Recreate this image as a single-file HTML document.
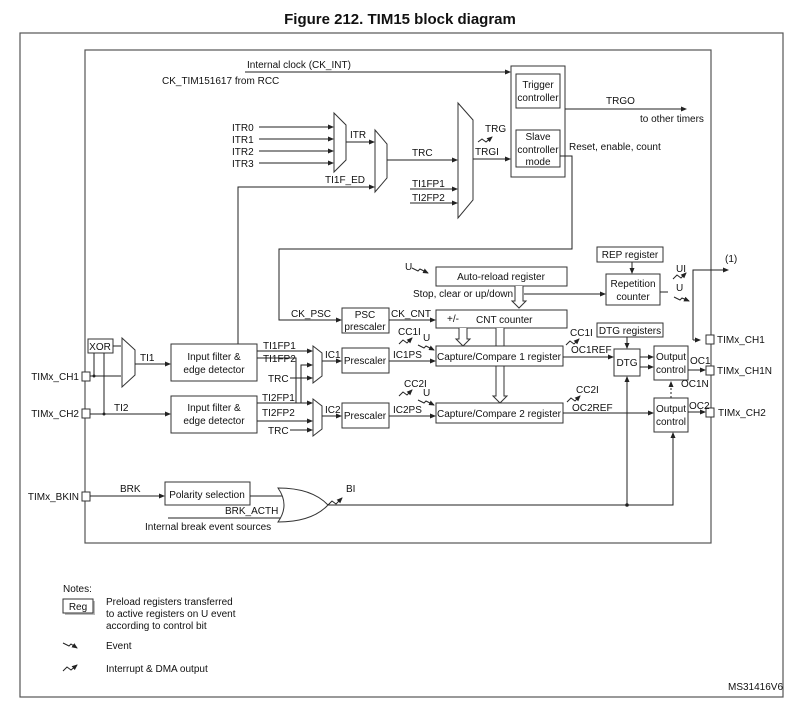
<!DOCTYPE html>
<html><head><meta charset="utf-8"><style>
body{margin:0;background:#fff}
svg{display:block}
text{font-family:"Liberation Sans",Arial,sans-serif;font-size:10px;fill:#111}
.b{fill:#fff;stroke:#333;stroke-width:1}
.l{fill:none;stroke:#222;stroke-width:1}
.s{fill:#bbb}
</style></head><body>
<svg width="797" height="704" viewBox="0 0 797 704" xmlns="http://www.w3.org/2000/svg">
<defs>
<marker id="a" markerWidth="6" markerHeight="6" refX="5" refY="3" orient="auto" markerUnits="userSpaceOnUse"><path d="M0,0.5 L6,3 L0,5.5z" fill="#222"/></marker>
</defs>
<text x="400" y="24" text-anchor="middle" style="font-size:15px;font-weight:bold">Figure 212. TIM15 block diagram</text>
<rect x="20" y="33" width="763" height="664" fill="none" stroke="#555" stroke-width="1.2"/>
<rect x="85" y="50" width="626" height="493" fill="none" stroke="#555" stroke-width="1.2"/>

<line class="l" x1="245" y1="72" x2="510" y2="72" marker-end="url(#a)"/>
<text x="247" y="68">Internal clock (CK_INT)</text>
<text x="162" y="84">CK_TIM151617 from RCC</text>

<rect class="b" x="511" y="66" width="54" height="111"/>
<rect class="b" x="516" y="74" width="44" height="34"/>
<text x="538" y="88" text-anchor="middle">Trigger</text>
<text x="538" y="101" text-anchor="middle">controller</text>
<rect class="b" x="516" y="130" width="44" height="37"/>
<text x="538" y="140" text-anchor="middle">Slave</text>
<text x="538" y="153" text-anchor="middle">controller</text>
<text x="538" y="165" text-anchor="middle">mode</text>
<line class="l" x1="565" y1="109" x2="686" y2="109" marker-end="url(#a)"/>
<text x="606" y="104">TRGO</text>
<text x="640" y="122">to other timers</text>
<text x="569" y="150">Reset, enable, count</text>
<polyline class="l" points="560,156 572,156 572,249 279,249 279,320 341,320" marker-end="url(#a)"/>
<text x="291" y="317">CK_PSC</text>

<polygon class="b" points="334,113 346,125 346,160 334,172"/>
<text x="232" y="131">ITR0</text><line class="l" x1="259" y1="127" x2="333" y2="127" marker-end="url(#a)"/>
<text x="232" y="143">ITR1</text><line class="l" x1="259" y1="139" x2="333" y2="139" marker-end="url(#a)"/>
<text x="232" y="155">ITR2</text><line class="l" x1="259" y1="151" x2="333" y2="151" marker-end="url(#a)"/>
<text x="232" y="167">ITR3</text><line class="l" x1="259" y1="163" x2="333" y2="163" marker-end="url(#a)"/>
<line class="l" x1="346" y1="142" x2="374" y2="142" marker-end="url(#a)"/>
<text x="350" y="138">ITR</text>
<polygon class="b" points="375,130 387,144 387,178 375,192"/>
<polyline class="l" points="238,344 238,187 374,187" marker-end="url(#a)"/>
<text x="325" y="183">TI1F_ED</text>
<line class="l" x1="387" y1="160" x2="457" y2="160" marker-end="url(#a)"/>
<text x="412" y="156">TRC</text>
<polygon class="b" points="458,103 473,120 473,200 458,218"/>
<line class="l" x1="410" y1="189" x2="457" y2="189" marker-end="url(#a)"/>
<text x="412" y="187">TI1FP1</text>
<line class="l" x1="410" y1="203" x2="457" y2="203" marker-end="url(#a)"/>
<text x="412" y="201">TI2FP2</text>
<line class="l" x1="473" y1="159" x2="510" y2="159" marker-end="url(#a)"/>
<text x="475" y="155">TRGI</text>
<text x="485" y="132">TRG</text>
<polyline class="l" points="478,142 482,139 486,142 492,137" marker-end="url(#a)"/>

<text x="405" y="270">U</text>
<polyline class="l" points="412,268 418,271 420,269 428,273" marker-end="url(#a)"/>
<rect class="b" x="436" y="267" width="131" height="19"/>
<text x="501" y="280" text-anchor="middle">Auto-reload register</text>
<text x="413" y="297">Stop, clear or up/down</text>
<line class="l" x1="524" y1="294" x2="605" y2="294" marker-end="url(#a)"/>
<path class="b" d="M515,286 V301 H512 L519,308 L526,301 H523 V286"/>
<rect class="b" x="436" y="310" width="131" height="18"/>
<text x="447" y="322">+/-</text>
<text x="476" y="323">CNT counter</text>
<rect class="b" x="342" y="308" width="47" height="25"/>
<text x="365" y="318" text-anchor="middle">PSC</text>
<text x="365" y="330" text-anchor="middle">prescaler</text>
<line class="l" x1="389" y1="320" x2="435" y2="320" marker-end="url(#a)"/>
<text x="391" y="317">CK_CNT</text>
<path class="b" d="M459,328 V339 H456 L463,346 L470,339 H467 V328"/>
<path class="b" d="M496,328 V396 H493 L500,403 L507,396 H504 V328"/>
<rect class="b" x="436" y="346" width="127" height="20"/>
<text x="499" y="360" text-anchor="middle">Capture/Compare 1 register</text>
<rect class="b" x="436" y="403" width="127" height="20"/>
<text x="499" y="417" text-anchor="middle">Capture/Compare 2 register</text>

<rect class="b" x="597" y="247" width="66" height="15"/>
<text x="630" y="258" text-anchor="middle">REP register</text>
<line class="l" x1="632" y1="262" x2="632" y2="273" marker-end="url(#a)"/>
<rect class="b" x="606" y="274" width="54" height="31"/>
<text x="633" y="287" text-anchor="middle">Repetition</text>
<text x="633" y="300" text-anchor="middle">counter</text>
<line class="l" x1="660" y1="292" x2="668" y2="292"/>
<text x="676" y="291">U</text>
<polyline class="l" points="674,297 680,300 682,298 689,301" marker-end="url(#a)"/>
<text x="676" y="272">UI</text>
<polyline class="l" points="673,279 677,275 681,278 686,273" marker-end="url(#a)"/>
<polyline class="l" points="693,340 693,270 728,270" marker-end="url(#a)"/>
<text x="725" y="262">(1)</text>

<rect class="b" x="597" y="323" width="66" height="14"/>
<text x="630" y="334" text-anchor="middle">DTG registers</text>
<line class="l" x1="627" y1="337" x2="627" y2="348" marker-end="url(#a)"/>
<rect class="b" x="614" y="349" width="26" height="27"/>
<text x="627" y="366" text-anchor="middle">DTG</text>
<line class="l" x1="563" y1="357" x2="613" y2="357" marker-end="url(#a)"/>
<text x="570" y="336">CC1I</text>
<polyline class="l" points="566,345 570,341 574,344 579,339" marker-end="url(#a)"/>
<text x="571" y="353">OC1REF</text>
<line class="l" x1="640" y1="357" x2="653" y2="357" marker-end="url(#a)"/>
<line class="l" x1="640" y1="367" x2="653" y2="367" marker-end="url(#a)"/>
<rect class="b" x="654" y="346" width="34" height="34"/>
<text x="671" y="360" text-anchor="middle">Output</text>
<text x="671" y="373" text-anchor="middle">control</text>
<rect class="b" x="654" y="398" width="34" height="34"/>
<text x="671" y="412" text-anchor="middle">Output</text>
<text x="671" y="425" text-anchor="middle">control</text>
<line x1="671" y1="398" x2="671" y2="382" stroke="#222" stroke-dasharray="2,2" marker-end="url(#a)"/>
<line class="l" x1="563" y1="413" x2="653" y2="413" marker-end="url(#a)"/>
<text x="572" y="411">OC2REF</text>
<text x="576" y="393">CC2I</text>
<polyline class="l" points="567,402 571,398 575,401 580,396" marker-end="url(#a)"/>
<text x="404" y="387">CC2I</text>
<polyline class="l" points="399,396 403,392 407,395 412,390" marker-end="url(#a)"/>
<text x="423" y="396">U</text>
<polyline class="l" points="418,400 424,403 426,401 434,405" marker-end="url(#a)"/>
<text x="398" y="335">CC1I</text>
<polyline class="l" points="399,344 403,340 407,343 412,338" marker-end="url(#a)"/>
<text x="423" y="341">U</text>
<polyline class="l" points="418,345 424,348 426,346 434,350" marker-end="url(#a)"/>
<line class="l" x1="389" y1="361" x2="435" y2="361" marker-end="url(#a)"/>
<text x="393" y="358">IC1PS</text>
<line class="l" x1="389" y1="416" x2="435" y2="416" marker-end="url(#a)"/>
<text x="393" y="413">IC2PS</text>

<polyline class="l" points="693,340 700,340" marker-end="url(#a)"/>
<line class="l" x1="688" y1="370" x2="705" y2="370" marker-end="url(#a)"/>
<line class="l" x1="688" y1="412" x2="705" y2="412" marker-end="url(#a)"/>
<rect class="b" x="706" y="335" width="8" height="9"/>
<rect class="b" x="706" y="366" width="8" height="9"/>
<rect class="b" x="706" y="408" width="8" height="9"/>
<text x="717" y="343">TIMx_CH1</text>
<text x="717" y="374">TIMx_CH1N</text>
<text x="718" y="416">TIMx_CH2</text>
<text x="690" y="364">OC1</text>
<text x="681" y="387">OC1N</text>
<text x="689" y="409">OC2</text>

<polyline class="l" points="326,505 673,505 673,433" marker-end="url(#a)"/>
<line class="l" x1="627" y1="505" x2="627" y2="377" marker-end="url(#a)"/>
<circle cx="627" cy="505" r="1.8" fill="#222"/>

<rect class="b" x="82" y="372" width="8" height="9"/>
<rect class="b" x="82" y="409" width="8" height="9"/>
<rect class="b" x="82" y="492" width="8" height="9"/>
<text x="79" y="380" text-anchor="end">TIMx_CH1</text>
<text x="79" y="417" text-anchor="end">TIMx_CH2</text>
<text x="79" y="500" text-anchor="end">TIMx_BKIN</text>
<rect class="b" x="88" y="339" width="25" height="14"/>
<text x="100" y="350" text-anchor="middle">XOR</text>
<polygon class="b" points="122,338 135,350 135,375 122,387"/>
<line class="l" x1="90" y1="376" x2="121" y2="376"/>
<circle cx="94" cy="376" r="1.5" fill="#222"/>
<line class="l" x1="94" y1="353" x2="94" y2="376"/>
<line class="l" x1="104" y1="353" x2="104" y2="414"/>
<circle cx="104" cy="414" r="1.5" fill="#222"/>
<line class="l" x1="113" y1="346" x2="121" y2="346"/>
<line class="l" x1="90" y1="414" x2="170" y2="414" marker-end="url(#a)"/>
<text x="114" y="411">TI2</text>
<line class="l" x1="135" y1="364" x2="170" y2="364" marker-end="url(#a)"/>
<text x="140" y="361">TI1</text>
<rect class="b" x="171" y="344" width="86" height="37"/>
<text x="214" y="360" text-anchor="middle">Input filter &amp;</text>
<text x="214" y="373" text-anchor="middle">edge detector</text>
<rect class="b" x="171" y="396" width="86" height="37"/>
<text x="214" y="411" text-anchor="middle">Input filter &amp;</text>
<text x="214" y="424" text-anchor="middle">edge detector</text>

<polygon class="b" points="313,346 322,353 322,376 313,383"/>
<polygon class="b" points="313,399 322,406 322,429 313,436"/>
<line class="l" x1="257" y1="351" x2="312" y2="351" marker-end="url(#a)"/>
<text x="263" y="349">TI1FP1</text>
<polyline class="l" points="257,358 296,358 296,403 312,403" marker-end="url(#a)"/>
<text x="263" y="362">TI1FP2</text>
<polyline class="l" points="257,403 301,403 301,365 312,365" marker-end="url(#a)"/>
<text x="262" y="401">TI2FP1</text>
<line class="l" x1="257" y1="421" x2="312" y2="421" marker-end="url(#a)"/>
<text x="262" y="416">TI2FP2</text>
<line class="l" x1="290" y1="378" x2="312" y2="378" marker-end="url(#a)"/>
<text x="268" y="382">TRC</text>
<line class="l" x1="290" y1="430" x2="312" y2="430" marker-end="url(#a)"/>
<text x="268" y="434">TRC</text>
<line class="l" x1="322" y1="361" x2="341" y2="361" marker-end="url(#a)"/>
<text x="325" y="358">IC1</text>
<line class="l" x1="322" y1="416" x2="341" y2="416" marker-end="url(#a)"/>
<text x="325" y="413">IC2</text>
<rect class="b" x="342" y="348" width="47" height="25"/>
<text x="365" y="364" text-anchor="middle">Prescaler</text>
<rect class="b" x="342" y="403" width="47" height="25"/>
<text x="365" y="419" text-anchor="middle">Prescaler</text>

<line class="l" x1="90" y1="496" x2="164" y2="496" marker-end="url(#a)"/>
<text x="120" y="492">BRK</text>
<rect class="b" x="165" y="482" width="85" height="23"/>
<text x="207" y="498" text-anchor="middle">Polarity selection</text>
<line class="l" x1="250" y1="496" x2="284" y2="496"/>
<line class="l" x1="168" y1="518" x2="284" y2="518"/>
<path class="b" d="M278,488 Q312,488 328,505 Q312,522 278,522 Q290,505 278,488z"/>
<text x="225" y="514">BRK_ACTH</text>
<text x="145" y="530">Internal break event sources</text>
<polyline class="l" points="328,505 332,501 336,504 342,498" marker-end="url(#a)"/>
<text x="346" y="492">BI</text>

<text x="63" y="592">Notes:</text>
<rect x="65" y="601" width="30" height="14" class="s"/>
<rect class="b" x="63" y="599" width="30" height="14"/>
<text x="78" y="610" text-anchor="middle">Reg</text>
<text x="106" y="605">Preload registers transferred</text>
<text x="106" y="617">to active registers on U event</text>
<text x="106" y="629">according to control bit</text>
<polyline class="l" points="63,643 69,646 71,644 77,648" marker-end="url(#a)"/>
<text x="106" y="649">Event</text>
<polyline class="l" points="63,671 67,667 71,670 77,665" marker-end="url(#a)"/>
<text x="106" y="672">Interrupt &amp; DMA output</text>
<text x="728" y="690">MS31416V6</text>
</svg>
</body></html>
